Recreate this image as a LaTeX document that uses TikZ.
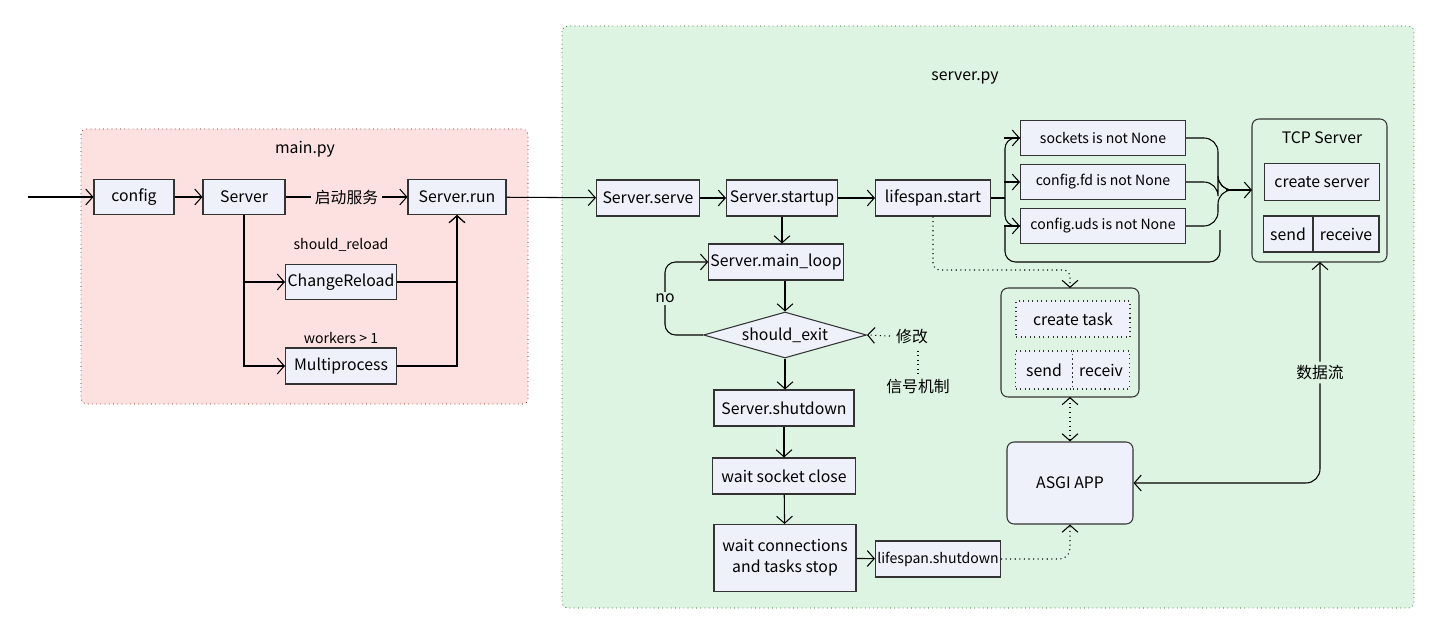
\documentclass[tikz,border=0pt]{standalone}
\usepackage{fontspec}
\setmainfont{Noto Sans CJK SC}
\usetikzlibrary{arrows.meta}
\usetikzlibrary{shapes.geometric}
\definecolor{boxfill}{HTML}{EEF0FA}
\definecolor{mainfill}{HTML}{FDE1E1}
\definecolor{servfill}{HTML}{DDF4E2}
\tikzstyle{block} = [draw=black!80,fill=boxfill,rectangle,semithick,inner sep=1pt,align=center]
\tikzstyle{group} = [draw=black!80,rounded corners=4pt,semithick]
\tikzstyle{connector} = [-{Straight Barb[length=4pt,width=9pt]},semithick]
\tikzset{sz/.style 2 args={minimum width=#1*0.02cm,minimum height=#2*0.02cm}}

\begin{document}
\begin{tikzpicture}[x=0.02cm,y=-0.02cm,font=\fontsize{9}{12}\selectfont]
	\useasboundingbox (0,0) rectangle (1440,635);
	% regions
	\draw[dotted,draw=red!40!black,fill=mainfill,rounded corners=3pt] (81,129) rectangle (528,404);
	\draw[dotted,draw=green!30!black,fill=servfill,rounded corners=3pt] (562,26) rectangle (1414,608);
	\node (mainlbl) at (305,149) {main.py};
	\node (servlbl) at (965,78) {server.py};

	% main.py
	\coordinate (entry) at (28,197);
	\node[block,sz={80}{35}] (config) at (134,197) {config};
	\node[block,sz={82}{35}] (server) at (244,197) {Server};
	\node[block,sz={98}{35}] (run) at (457,197) {Server.run};
	\node[block,sz={111}{35}] (reload) at (341,282) {ChangeReload};
	\node[block,sz={111}{36}] (multi) at (341,366) {Multiprocess};
	\node[font=\fontsize{8}{10}\selectfont] (reloadlbl) at (341,245) {should\_reload};
	\node[font=\fontsize{8}{10}\selectfont] (multilbl) at (341,338) {workers > 1};

	% server.py
	\node[block,sz={103}{36}] (serve) at (648,198) {Server.serve};
	\node[block,sz={111}{36}] (startup) at (782,198) {Server.startup};
	\node[block,sz={115}{36}] (lstart) at (933,198) {lifespan.start};
	\node[block,sz={121}{36}] (mainloop) at (776,262) {Server.main\_loop};
	\node[block,diamond,aspect=3.5,sz={163}{46},inner sep=0pt] (exit) at (785,335) {should\_exit};
	\node[block,sz={140}{36}] (shutdown) at (784,408) {Server.shutdown};
	\node[block,sz={143}{36}] (sockclose) at (784,476) {wait socket close};
	\node[block,sz={142}{67}] (conns) at (785,558) {wait connections\\and tasks stop};
	\node[block,sz={125}{36},font=\fontsize{8}{10}\selectfont] (lshut) at (938,559) {lifespan.shutdown};
	\node (modify) at (912,337) {修改};
	\node (signal) at (918,387) {信号机制};

	\node[block,sz={165}{35},font=\fontsize{8}{10}\selectfont] (sockets) at (1103,138) {sockets is not None};
	\node[block,sz={165}{35},font=\fontsize{8}{10}\selectfont] (fd) at (1103,182) {config.fd is not None};
	\node[block,sz={165}{35},font=\fontsize{8}{10}\selectfont] (uds) at (1103,226) {config.uds is not None};

	\draw[group] (1252,119) rectangle (1387,262);
	\node (tcplbl) at (1322,138) {TCP Server};
	\node[block,sz={115}{37}] (create) at (1322,182) {create server};
	\node[block,sz={49}{36}] (tsend) at (1288,234) {send};
	\node[block,sz={66}{36}] (trecv) at (1346,234) {receive};
	\coordinate (tcpin) at (1252,190);
	\coordinate (tcpbot) at (1320,262);

	\draw[group] (1001,288) rectangle (1139,397);
	\node[block,dotted,sz={114}{36}] (task) at (1073,319) {create task};
	\node[block,dotted,sz={57}{38}] (asend) at (1044,370) {send};
	\node[block,dotted,sz={57}{38}] (arecv) at (1101,370) {receiv};
	\coordinate (tasktop) at (1070,288);
	\coordinate (taskbot) at (1070,397);

	\node[block,rounded corners=4pt,sz={126}{82}] (asgi) at (1070,483) {ASGI APP};

	% now link the nodes
	\draw[connector] (entry) -- (config);
	\draw[connector] (config) -- (server);
	\draw[connector] (server) -- node[fill=mainfill,inner sep=2pt] {启动服务} (run);
	\draw[connector] (server.south) |- (reload.west);
	\draw[connector] (server.south) |- (multi.west);
	\draw[connector] (reload.east) -| (run.south);
	\draw[connector] (multi.east) -| (run.south);
	\draw[connector] (run) -- (serve);
	\draw[connector] (serve) -- (startup);
	\draw[connector] (startup) -- (lstart);
	\draw[connector] (startup.south) -- (mainloop.north -| startup.south);
	\draw[connector] (mainloop.south -| exit.north) -- (exit.north);
	\draw[connector,rounded corners=6pt] (exit.west) -- (665,335) -- node[fill=servfill,inner sep=1pt] {no} (665,262) -- (mainloop.west);
	\draw[connector] (exit.south) -- (shutdown.north -| exit.south);
	\draw[connector] (shutdown) -- (sockclose);
	\draw[connector] (sockclose) -- (conns);
	\draw[connector] (conns) -- (lshut);
	\draw[connector,dotted] (modify) -- (exit.east);
	\draw[dotted,semithick] (modify.south -| signal) -- (signal.north);

	% lifespan.start branches
	\draw[semithick] (lstart.east) -- (1005,198);
	\draw[semithick,rounded corners=6pt] (1005,198) |- (sockets.west);
	\draw[semithick,rounded corners=6pt] (1005,198) |- (uds.west);
	\draw[semithick,rounded corners=6pt] (1005,226) -- (1005,262) -- (1220,262) -- (1220,230);
	\foreach \b in {sockets,fd,uds}
		\draw[connector] ([xshift=-16*0.02cm]\b.west) -- (\b.west);
	\foreach \b in {sockets,fd,uds}
		\draw[semithick,rounded corners=8pt] (\b.east) -| (1218,190) -- (1228,190);
	\draw[connector] (1226,190) -- (tcpin);

	\draw[connector,dotted,rounded corners=4pt] (lstart.south) -- (933,270) -| (tasktop);
	\draw[dotted,semithick,{Straight Barb[length=4pt,width=9pt]}-{Straight Barb[length=4pt,width=9pt]}] (taskbot) -- (asgi.north);
	\draw[connector,dotted,rounded corners=6pt] (lshut.east) -| (asgi.south);
	\draw[semithick,{Straight Barb[length=4pt,width=9pt]}-{Straight Barb[length=4pt,width=9pt]},rounded corners=8pt] (asgi.east) -| node[pos=0.75,fill=servfill,inner sep=2pt] {数据流} (tcpbot);
\end{tikzpicture}
\end{document}
